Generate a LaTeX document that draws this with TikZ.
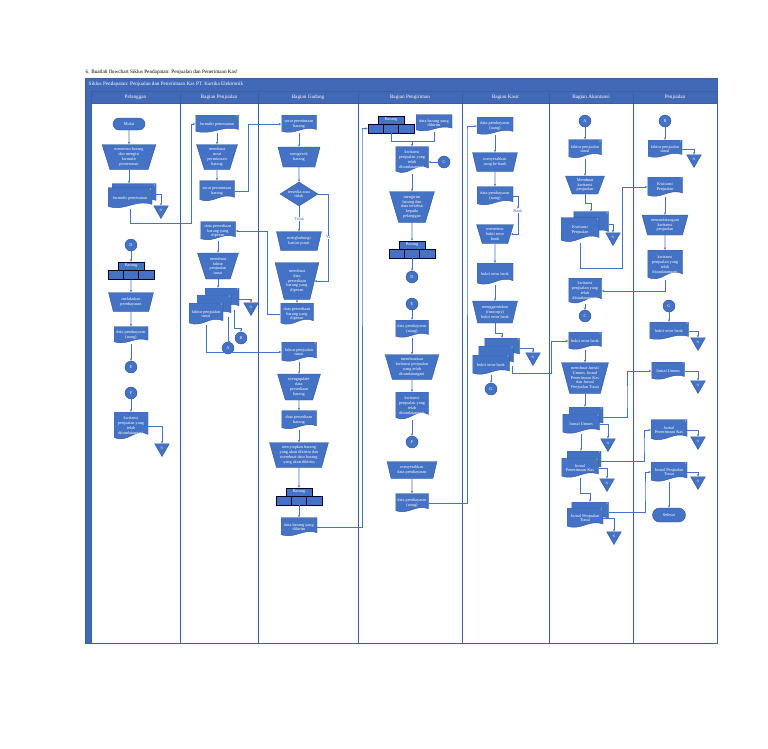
\documentclass[tikz,border=0pt]{standalone}
\usepackage{fontspec}
\setmainfont{Liberation Serif}
\usetikzlibrary{shapes.geometric,shapes.misc,arrows.meta,calc}

\definecolor{boxblue}{HTML}{4472C4}
\definecolor{boxline}{HTML}{2F528F}
\definecolor{hdrblue}{HTML}{4169B8}
\definecolor{laneline}{HTML}{3C5E9E}

\begin{document}
\begin{tikzpicture}[x=1pt,y=-1pt]
	\tikzset{
		every node/.style={font=\fontsize{4.3}{4.8}\selectfont, text=white, align=center, inner sep=0.5pt},
		dok/.style 2 args={minimum width=#1, minimum height=#2, path picture={
				\filldraw[fill=boxblue, draw=boxline, line width=0.4pt]
				let \p1=(path picture bounding box.south west), \p2=(path picture bounding box.north east),
				\n1={\y2-\y1}, \n2={\x2-\x1} in
				(\x1,\y2) -- (\x2,\y2) -- (\x2,\y1+0.2*\n1)
				.. controls (\x1+0.6*\n2,\y1+0.45*\n1) and (\x1+0.4*\n2,\y1-0.15*\n1) .. (\x1,\y1+0.1*\n1) -- cycle;}},
		manop/.style 2 args={trapezium, trapezium stretches=true, shape border rotate=180,
			trapezium left angle=72, trapezium right angle=72, minimum width=#1, minimum height=#2,
			fill=boxblue, draw=boxline, line width=0.4pt, inner sep=0pt},
		term/.style 2 args={rounded rectangle, minimum width=#1, minimum height=#2, fill=boxblue, draw=boxline, line width=0.4pt},
		konektor/.style={circle, minimum size=12pt, inner sep=0pt, fill=boxblue, draw=boxline, line width=0.4pt},
		arsip/.style={regular polygon, regular polygon sides=3, shape border rotate=180, minimum size=17pt,
			inner sep=0pt, fill=boxblue, draw=boxline, line width=0.4pt, font=\fontsize{3.5}{3.5}\selectfont},
		keputusan/.style={diamond, aspect=1.6, minimum width=38pt, minimum height=24pt, inner sep=0pt,
			fill=boxblue, draw=boxline, line width=0.4pt},
		nomor/.style={label={[font=\fontsize{3}{3}\selectfont, anchor=north east, inner sep=0.7pt]north east:#1}},
		alur/.style={draw=boxblue, line width=0.6pt, -{Stealth[length=2.5pt,width=2.2pt]}},
		garis/.style={draw=boxblue, line width=0.6pt},
		lbl/.style={text=boxblue, fill=white, inner sep=0.5pt},
		brgbox/.style={draw=black!85!blue, line width=0.6pt, fill=boxblue, minimum width=15.3pt, minimum height=9pt, inner sep=0pt},
		barang/.pic={
			\node[brgbox, minimum width=26pt, minimum height=8pt] (-atas) at (0,-4) {Barang};
			\node[brgbox] (-kiri) at (-15.3,4.5) {};
			\node[brgbox] (-tengah) at (0,4.5) {};
			\node[brgbox] (-kanan) at (15.3,4.5) {};
		}
	}
	\useasboundingbox (0,0) rectangle (768,748);
	
	% kerangka swimlane
	\node [anchor=west, text=black, font=\fontsize{5.2}{6}\selectfont] (soal) at (85,72) {6. Buatlah flowchart Siklus Pendapatan: Penjualan dan Penerimaan Kas!};
	\fill [hdrblue] (85,78) rectangle (717,103);
	\fill [hdrblue] (85,78) rectangle (91,643);
	\node [anchor=west, font=\fontsize{5.2}{6}\selectfont] (judul) at (88,84.5) {Siklus Pendapatan: Penjualan dan Penerimaan Kas PT. Kartika Elektronik};
	\draw [laneline, line width=0.8pt] (85,78) rectangle (717,643);
	\draw [laneline, line width=0.6pt] (91,91) -- (717,91);
	\draw [laneline, line width=0.6pt] (91,103) -- (717,103);
	\foreach \x in {91,180,258,358,462,549,633}
		\draw [laneline, line width=0.8pt] (\x,91) -- (\x,643);
	\foreach \x/\t [count=\i] in {135.5/Pelanggan, 219/Bagian Penjualan, 308/Bagian Gudang, 410/Bagian Pengiriman, 505.5/Bagian Kasir, 591/Bagian Akuntansi, 675/Penjualan}
		\node [font=\fontsize{5.2}{6}\selectfont] (kol\i) at (\x,97) {\t};
	
	% Pelanggan
	\node [term={33pt}{12pt}] (pmulai) at (129,124) {Mulai};
	\node [manop={54pt}{25pt}] (ppesan) at (129,157) {memesan barang\\dan mengisi\\formulir\\pemesanan};
	\node [dok={44pt}{21pt}, nomor=2] (pform2) at (134,194) {};
	\node [dok={44pt}{21pt}, nomor=1] (pform1) at (130,198) {formulir pemesanan};
	\node [arsip] (parsip1) at (161,210) {N};
	\node [konektor] (pD) at (131,245) {D};
	\pic (pbrg) at (131,270) {barang};
	\node [manop={45pt}{19pt}] (pbayar) at (131,302) {melakukan\\pembayaran};
	\node [dok={34pt}{17pt}] (pdata) at (131,335) {data pembayaran\\(uang)};
	\node [konektor] (pE) at (131,367) {E};
	\node [konektor] (pF) at (131,393) {F};
	\node [dok={34pt}{28pt}] (pkwit) at (131,426) {kwitansi\\penjualan yang\\telah\\ditandatangani};
	\node [arsip] (parsip2) at (162,448) {N};
	
	% Bagian Penjualan
	\node [dok={43pt}{18pt}, nomor=1] (jform) at (217,124) {formulir pemesanan};
	\node [manop={41pt}{25pt}] (jbuat) at (217,157) {membuat\\surat\\permintaan\\barang};
	\node [dok={35pt}{21pt}] (jsurat) at (217,191) {surat permintaan\\barang};
	\node [dok={35pt}{19pt}] (jsedia) at (218,231) {data persediaan\\barang yang\\dipesan};
	\node [manop={41pt}{26pt}] (jfaktur) at (218,266) {membuat\\faktur\\penjualan\\tunai};
	\node [dok={34pt}{22pt}, nomor=3] (jfak3) at (222,299) {};
	\node [dok={34pt}{22pt}, nomor=2] (jfak2) at (214,306) {};
	\node [dok={34pt}{22pt}, nomor=1] (jfak1) at (206,314) {faktur penjualan\\tunai};
	\node [arsip] (jarsip) at (251,307) {N};
	\node [konektor] (jB) at (241,338) {B};
	\node [konektor] (jA) at (228,348) {A};
	
	% Bagian Gudang
	\node [dok={35pt}{18pt}] (gsurat) at (299,124) {surat permintaan\\barang};
	\node [manop={42pt}{20pt}] (gcek) at (299,157) {mengecek\\barang};
	\node [keputusan] (gada) at (299,194) {tersedia atau\\tidak};
	\node [manop={45pt}{19pt}] (ghub) at (299,241) {menghubungi\\kantor pusat};
	\node [manop={44pt}{37pt}] (gbuat) at (297,281) {membuat\\data\\persediaan\\barang yang\\dipesan};
	\node [dok={33pt}{22pt}] (gdok) at (297,314) {data persediaan\\barang yang\\dipesan};
	\node [dok={35pt}{20pt}, nomor=1] (gfak) at (299,352) {faktur penjualan\\tunai};
	\node [manop={43pt}{26pt}] (gupdate) at (299,387) {mengupdate\\data\\persediaan\\barang};
	\node [dok={35pt}{19pt}] (gdata) at (299,420) {data persediaan\\barang};
	\node [manop={59pt}{25pt}] (gsiap) at (299,455) {menyiapkan barang\\yang akan dikirim dan\\membuat data barang\\yang akan dikirim};
	\pic (gbrg) at (299,496) {barang};
	\node [dok={36pt}{19pt}] (gkirim) at (299,527) {data barang yang\\dikirim};
	
	% Bagian Pengiriman
	\pic (rbrg) at (391,124) {barang};
	\node [dok={36pt}{17pt}] (rdok) at (434,123) {data barang yang\\dikirim};
	\node [dok={33pt}{27pt}] (rkwit) at (412,160) {kwitansi\\penjualan yang\\telah\\ditandatangani};
	\node [konektor] (rC) at (444,162) {C};
	\node [manop={45pt}{31pt}] (rkirim) at (412,207) {mengirim\\barang dan\\data tersebut\\kepada\\pelanggan};
	\pic (rbrg2) at (412,249) {barang};
	\node [konektor] (rD) at (412,277) {D};
	\node [konektor] (rE) at (412,304) {E};
	\node [dok={33pt}{18pt}] (rdata) at (412,329) {data pembayaran\\(uang)};
	\node [manop={54pt}{25pt}] (rbuat) at (412,367) {membuatkan\\kwitansi penjualan\\yang telah\\ditandatangani};
	\node [dok={33pt}{28pt}] (rkwit2) at (412,406) {kwitansi\\penjualan yang\\telah\\ditandatangani};
	\node [konektor] (rF) at (412,442) {F};
	\node [manop={50pt}{17pt}] (rserah) at (412,470) {menyerahkan\\data pembayaran};
	\node [dok={33pt}{19pt}] (rdata2) at (412,503) {data pembayaran\\(uang)};
	
	% Bagian Kasir
	\node [dok={36pt}{18pt}] (kdata) at (495,126) {data pembayaran\\(uang)};
	\node [manop={45pt}{19pt}] (kserah) at (495,162) {menyerahkan\\uang ke bank};
	\node [dok={36pt}{19pt}] (kdata2) at (495,196) {data pembayaran\\(uang)};
	\node [lbl] (kbank) at (518,211) {Bank};
	\node [manop={37pt}{19pt}] (kterima) at (495,234) {menerima\\bukti setor\\bank};
	\node [dok={36pt}{22pt}] (kbukti) at (495,274) {bukti setor bank};
	\node [manop={45pt}{22pt}] (kganda) at (495,312) {menggandakan\\(fotocopy)\\bukti setor bank};
	\node [dok={35pt}{20pt}, nomor=3] (kbk3) at (502,348) {};
	\node [dok={35pt}{20pt}, nomor=2] (kbk2) at (496,356) {};
	\node [dok={37pt}{20pt}, nomor=1] (kbk1) at (491,365) {bukti setor bank};
	\node [arsip] (karsip) at (533,357) {N};
	\node [konektor] (kG) at (491,389) {G};
	
	% Bagian Akuntansi
	\node [konektor] (aA) at (585,121) {A};
	\node [dok={33pt}{19pt}, nomor=2] (afak) at (585,149) {faktur penjualan\\tunai};
	\node [manop={39pt}{18pt}] (abuat) at (585,185) {Membuat\\kwitansi\\penjualan};
	\node [dok={35pt}{25pt}, nomor=2] (akw2) at (591,224) {};
	\node [dok={38pt}{25pt}, nomor=1] (akw1) at (580,230) {Kwitansi\\Penjualan};
	\node [arsip] (aarsip1) at (613,237) {N};
	\node [dok={33pt}{26pt}] (akwttd) at (585,291) {kwitansi\\penjualan yang\\telah\\ditandatangani};
	\node [konektor] (aC) at (585,316) {C};
	\node [dok={33pt}{18pt}, nomor=2] (abukti) at (585,341) {bukti setor bank};
	\node [manop={47pt}{31pt}] (ajurnal) at (585,378) {membuat Jurnal\\Umum, Jurnal\\Penerimaan Kas\\dan Jurnal\\Penjualan Tunai};
	\node [dok={34pt}{20pt}, nomor=2] (aju2) at (586,417) {};
	\node [dok={37pt}{20pt}, nomor=1] (aju1) at (581,424) {Jurnal Umum};
	\node [arsip] (aarsip2) at (608,443) {N};
	\node [dok={34pt}{20pt}, nomor=2] (ajp2) at (584,461) {};
	\node [dok={37pt}{20pt}, nomor=1] (ajp1) at (580,468) {Jurnal\\Penerimaan Kas};
	\node [arsip] (aarsip3) at (607,483) {N};
	\node [dok={37pt}{20pt}, nomor=2] (ajt2) at (590,512) {};
	\node [dok={36pt}{20pt}, nomor=1] (ajt1) at (585,518) {Jurnal Penjualan\\Tunai};
	\node [arsip] (aarsip4) at (614,536) {N};
	
	% Penjualan
	\node [konektor] (sB) at (665,121) {B};
	\node [dok={34pt}{18pt}, nomor=3] (sfak) at (665,149) {faktur penjualan\\tunai};
	\node [arsip] (sarsip1) at (694,159) {N};
	\node [dok={35pt}{20pt}, nomor=1] (skw) at (665,187) {Kwitansi\\Penjualan};
	\node [manop={46pt}{20pt}] (sttd) at (665,225) {menandatangani\\kwitansi\\penjualan};
	\node [dok={35pt}{30pt}] (skwttd) at (665,265) {kwitansi\\penjualan yang\\telah\\ditandatangani};
	\node [konektor] (sG) at (669,306) {G};
	\node [dok={39pt}{18pt}, nomor=3] (sbukti) at (669,331) {bukti setor bank};
	\node [arsip] (sarsip2) at (698,342) {N};
	\node [dok={33pt}{18pt}, nomor=2] (sju) at (668,371) {Jurnal Umum};
	\node [arsip] (sarsip3) at (698,385) {N};
	\node [dok={36pt}{21pt}, nomor=2] (sjp) at (669,430) {Jurnal\\Penerimaan Kas};
	\node [arsip] (sarsip4) at (698,441) {N};
	\node [dok={36pt}{20pt}, nomor=2] (sjt) at (669,472) {Jurnal Penjualan\\Tunai};
	\node [arsip] (sarsip5) at (698,481) {N};
	\node [term={34pt}{14pt}] (sselesai) at (669,515) {Selesai};
	
	% titik belok
	\coordinate (pk1) at (191,223);
	\coordinate (jk1) at (248,124);
	\coordinate (gk1) at (267,231);
	\coordinate (gk2) at (362,130);
	\coordinate (rk1) at (412,141);
	\coordinate (rk2) at (467,130);
	\coordinate (kk1) at (551,373);
	\coordinate (ak1) at (622,268);
	\coordinate (ak2) at (627,400);
	\coordinate (ak3) at (644,445);
	\coordinate (ak4) at (645,490);
	
	% alur Pelanggan
	\draw [alur] (pmulai) -- (ppesan);
	\draw [alur] (ppesan.south) -- (ppesan.south |- pform2.north);
	\draw [alur] (pform2.east) -| (parsip1.north);
	\draw [alur] (pform1.south) |- (pk1) |- (jform.west);
	\draw [alur] (pD) -- (pbrg-atas);
	\draw [alur] (pbrg-tengah) -- (pbayar);
	\draw [alur] (pbayar) -- (pdata);
	\draw [alur] (pdata) -- (pE);
	\draw [alur] (pF) -- (pkwit);
	\draw [alur] (pkwit.east) -| (parsip2.north);
	
	% alur Bagian Penjualan
	\draw [alur] (jform) -- (jbuat);
	\draw [alur] (jbuat) -- (jsurat);
	\draw [alur] (jsurat.east) -| (jk1) -- (gsurat.west);
	\draw [alur] (gdok.west) -| (gk1) |- (jsedia.east);
	\draw [alur] (jsedia) -- (jfaktur);
	\draw [alur] (jfaktur.south) -- (jfaktur.south |- jfak3.north);
	\draw [alur] (jfak3.east) -| (jarsip.north);
	\draw [alur] ([xshift=-5pt]jfak3.south east) -- ++(0,18) -| (jB.north);
	\draw [alur] ([xshift=-3pt]jfak2.south east) |- (jA.north);
	\draw [alur] (jfak1.south) |- (gfak.west);
	
	% alur Bagian Gudang
	\draw [alur] (gsurat) -- (gcek);
	\draw [alur] (gcek) -- (gada);
	\draw [alur] (gada) -- node [lbl] (ltidak) {Tidak} (ghub);
	\draw [alur] (gada.east) -- ++(10,0) |- node [lbl, pos=0.25] (lya) {Ya} (gbuat.east);
	\draw [alur] (gbuat) -- (gdok);
	\draw [alur] (gfak) -- (gupdate);
	\draw [alur] (gupdate) -- (gdata);
	\draw [alur] (gdata) -- (gsiap);
	\draw [alur] (gsiap) -- (gbrg-atas);
	\draw [alur] (gbrg-tengah) -- (gkirim);
	\draw [alur] (gkirim.east) -| (gk2) |- (rbrg-kiri.west);
	
	% alur Bagian Pengiriman
	\draw [garis] (rbrg-tengah.south) |- (rk1);
	\draw [garis] (rdok.south) |- (rk1);
	\draw [alur] (rk1) -- (rkwit.north);
	\draw [alur] (rC.west) -- (rC.west -| rkwit.east);
	\draw [alur] (rkwit) -- (rkirim);
	\draw [alur] (rkirim) -- (rbrg2-atas);
	\draw [alur] (rbrg2-tengah) -- (rD);
	\draw [alur] (rE) -- (rdata);
	\draw [alur] (rdata) -- (rbuat);
	\draw [alur] (rbuat) -- (rkwit2);
	\draw [alur] (rkwit2) -- (rF);
	\draw [alur] (rserah) -- (rdata2);
	\draw [alur] (rdata2.east) -| (rk2) |- (kdata.west);
	
	% alur Bagian Kasir
	\draw [alur] (kdata) -- (kserah);
	\draw [alur] (kserah) -- (kdata2);
	\draw [alur] (kdata2.east) -| (kbank.north);
	\draw [alur] (kbank.south) |- (kterima.east);
	\draw [alur] (kterima) -- (kbukti);
	\draw [alur] (kbukti) -- (kganda);
	\draw [alur] (kganda.south) -- ++(0,10) -| (kbk3.north);
	\draw [alur] (kbk3.east) -| (karsip.north);
	\draw [alur] ([xshift=-1pt]kbk2.south east) |- (kk1) |- (abukti.west);
	\draw [alur] (kbk1.south) -- (kG.north);
	
	% alur Bagian Akuntansi
	\draw [alur] (aA) -- (afak);
	\draw [alur] (afak) -- (abuat);
	\draw [alur] (abuat.south) -- ++(0,9) -| (akw2.north);
	\draw [alur] (akw2.east) -| (aarsip1.north);
	\draw [alur] (akw1.south) |- (ak1) |- (skw.west);
	\draw [alur] (skwttd.south) |- (akwttd.east);
	\draw [alur] (akwttd) -- (aC);
	\draw [alur] (abukti) -- (ajurnal);
	\draw [alur] (ajurnal.south) -- (ajurnal.south |- aju2.north);
	\draw [alur] (aju2.east) -| (ak2) |- (sju.west);
	\draw [alur] (aju1.east) -| (aarsip2.north);
	\draw [alur] (aju1.south) -- (aju1.south |- ajp2.north);
	\draw [alur] (ajp2.east) -| (ak3) |- (sjp.west);
	\draw [alur] (ajp1.east) -| (aarsip3.north);
	\draw [alur] (ajp1.south) -- ++(0,15) -| (ajt2.north);
	\draw [alur] (ajt2.east) -| (ak4) |- (sjt.west);
	\draw [alur] (ajt1.east) -| (aarsip4.north);
	
	% alur Penjualan
	\draw [alur] (sB) -- (sfak);
	\draw [alur] (sfak.east) -| (sarsip1.north);
	\draw [alur] (skw) -- (sttd);
	\draw [alur] (sttd) -- (skwttd);
	\draw [alur] (sG) -- (sbukti);
	\draw [alur] (sbukti.east) -| (sarsip2.north);
	\draw [alur] (sju.east) -| (sarsip3.north);
	\draw [alur] (sjp.east) -| (sarsip4.north);
	\draw [alur] (sjt.east) -| (sarsip5.north);
	\draw [alur] (sjt) -- (sselesai);
\end{tikzpicture}
\end{document}
